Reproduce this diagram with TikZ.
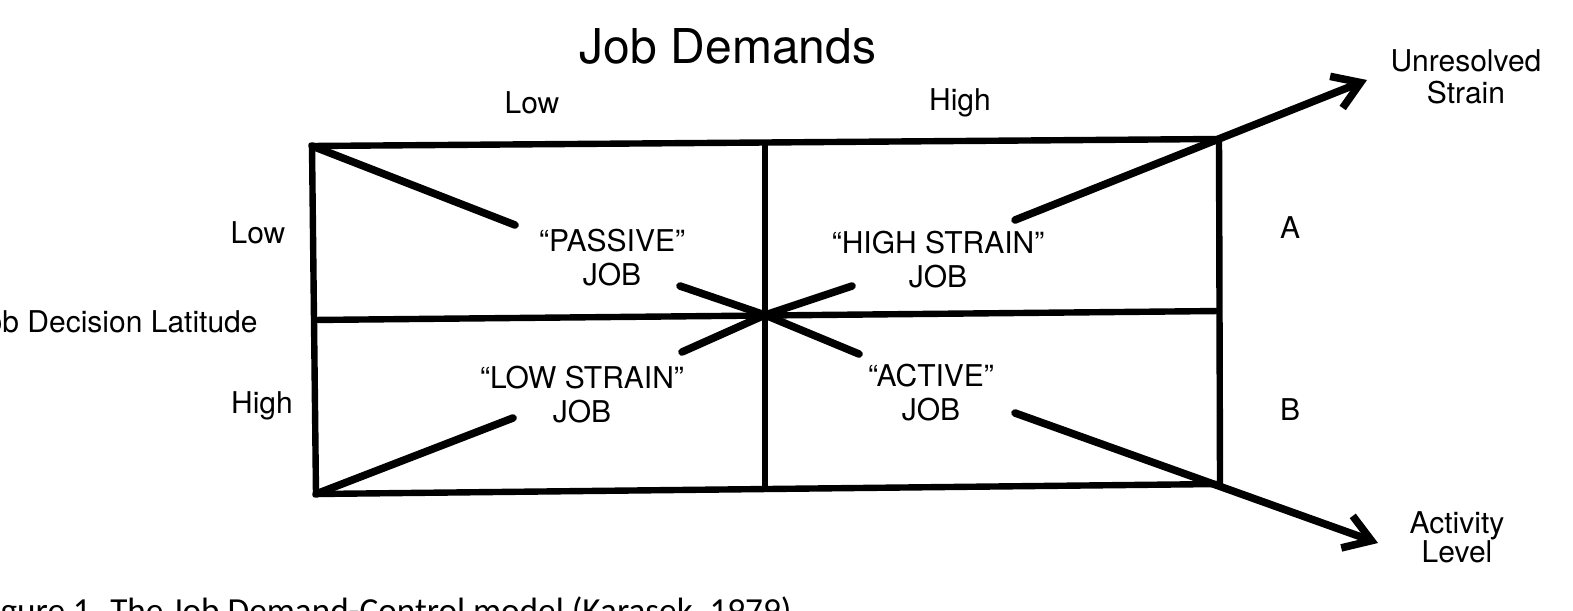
\documentclass[tikz,border=0pt]{standalone}
\usepackage{fontspec}
\setmainfont{TeX Gyre Heros}
\newfontfamily\captionfont{Carlito}
\usetikzlibrary{arrows.meta}

\begin{document}
\begin{tikzpicture}[x = 0.5pt, y = -0.5pt]
\tikzstyle{frameStyle} = [line width = 3.2pt, line join = miter]
\tikzstyle{spokeStyle} = [line width = 3.8pt, line cap = round]
\tikzstyle{arrowStyle} = [spokeStyle, -{Straight Barb[length = 13pt, width = 17pt]}]
\tikzstyle{labelStyle} = [inner sep = 0pt, font = \fontsize{15}{17}\selectfont]
\tikzstyle{cellStyle} = [labelStyle, align = center]
\useasboundingbox (0,0) rectangle (1573,610);
\coordinate (tl) at (312,146);
\coordinate (tr) at (1219,139);
\coordinate (bl) at (316,494);
\coordinate (br) at (1220,484);
\coordinate (ml) at (313,320);
\coordinate (mr) at (1220,311);
\coordinate (mt) at (765,142);
\coordinate (mb) at (765,489);
\coordinate (c) at (765,315);
\coordinate (pa1) at (515,225);
\coordinate (pa2) at (680,286);
\coordinate (ls1) at (682,352);
\coordinate (ls2) at (513,418);
\coordinate (hs1) at (1015,220);
\coordinate (hs2) at (852,286);
\coordinate (ac1) at (859,354);
\coordinate (ac2) at (1015,413);
\coordinate (usTip) at (1367,80);
\coordinate (alTip) at (1378,543);
\node[labelStyle, anchor = base, font = \fontsize{24}{28}\selectfont] (demands) at (728,64) {Job Demands};
\node[labelStyle, anchor = base] (dLow) at (532,113) {Low};
\node[labelStyle, anchor = base] (dHigh) at (960,111) {High};
\node[labelStyle, anchor = base] (lLow) at (258,243) {Low};
\node[labelStyle, anchor = base] (lHigh) at (262,413) {High};
\node[labelStyle, anchor = base east] (latitude) at (258,332) {Job Decision Latitude};
\node[labelStyle, anchor = base] (a) at (1290,238) {A};
\node[labelStyle, anchor = base] (b) at (1290,420) {B};
\node[cellStyle] (passive) at (612,258) {``PASSIVE''\\JOB};
\node[cellStyle] (highStrain) at (938,260) {``HIGH STRAIN''\\JOB};
\node[cellStyle] (lowStrain) at (582,395) {``LOW STRAIN''\\JOB};
\node[cellStyle] (active) at (931,393) {``ACTIVE''\\JOB};
\node[cellStyle, font = \fontsize{15}{16}\selectfont] (unresolved) at (1466,77) {Unresolved\\Strain};
\node[cellStyle, font = \fontsize{15}{14.5}\selectfont] (activity) at (1457,537) {Activity\\Level};
\node[inner sep = 0pt, anchor = base west, font = \captionfont\fontsize{17.6}{21}\selectfont] (caption) at (-24,622) {Figure 1. The Job Demand-Control model (Karasek, 1979)};
\draw[frameStyle] (tl) -- (tr) -- (br) -- (bl) -- cycle;
\draw[frameStyle] (ml) -- (mr);
\draw[frameStyle] (mt) -- (mb);
\draw[spokeStyle] (tl) -- (pa1);
\draw[spokeStyle] (pa2) -- (c);
\draw[spokeStyle] (ls1) -- (c);
\draw[spokeStyle] (ls2) -- (bl);
\draw[spokeStyle] (hs2) -- (c);
\draw[spokeStyle] (ac1) -- (c);
\draw[arrowStyle] (hs1) -- (usTip);
\draw[arrowStyle] (ac2) -- (alTip);
\end{tikzpicture}
\end{document}
